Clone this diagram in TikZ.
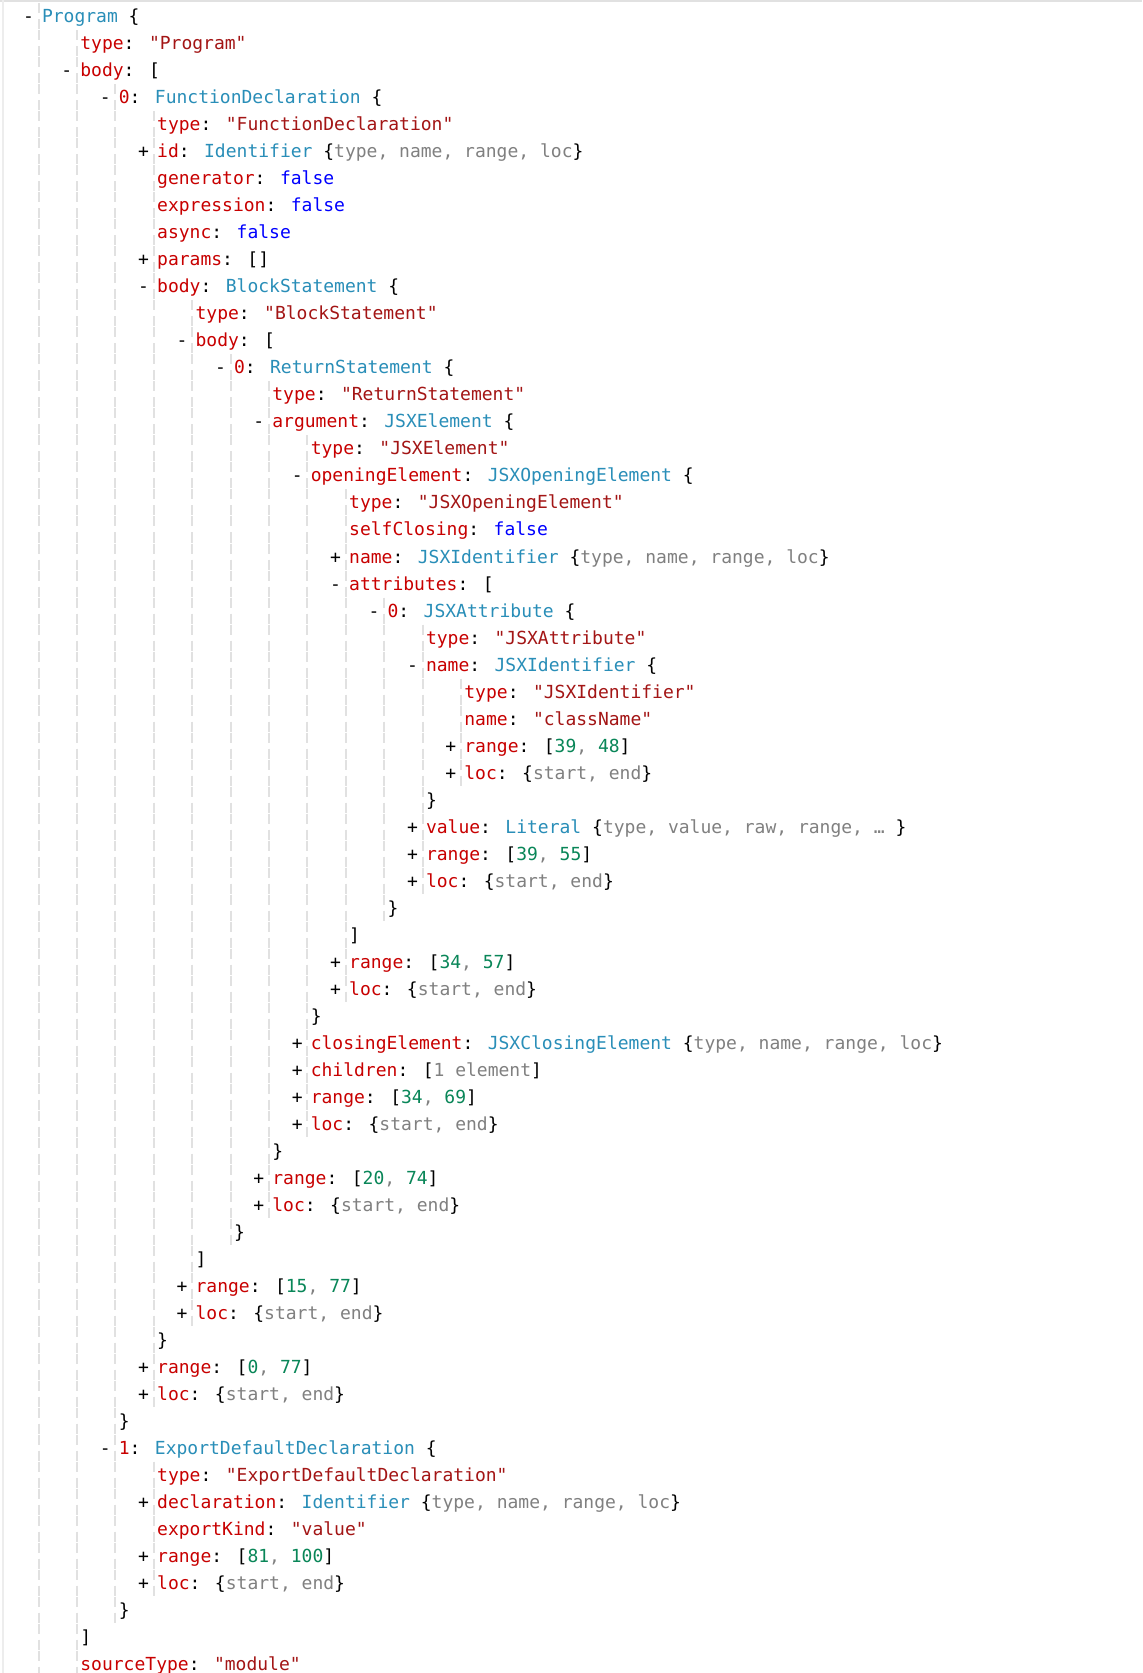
\documentclass[tikz,border=0pt]{standalone}
\usepackage{fontspec}
\newfontfamily\codefont{DejaVu Sans Mono}
\definecolor{kc}{RGB}{200,0,0}
\definecolor{tc}{RGB}{41,142,184}
\definecolor{sc}{RGB}{163,21,21}
\definecolor{bc}{RGB}{0,0,255}
\definecolor{nc}{RGB}{9,134,88}
\definecolor{gc}{RGB}{128,128,128}
\definecolor{guide}{RGB}{225,225,225}
\newcommand{\Ky}[1]{\textcolor{kc}{#1}:}
\newcommand{\Ty}[1]{\textcolor{tc}{#1}}
\newcommand{\St}[1]{\textcolor{sc}{"#1"}}
\newcommand{\Bo}[1]{\textcolor{bc}{#1}}
\newcommand{\Nu}[1]{\textcolor{nc}{#1}}
\newcommand{\Gr}[1]{\textcolor{gc}{#1}}
\newcommand{\Rg}[2]{[\Nu{#1}\Gr{,} \Nu{#2}]}
\newcommand{\Lc}{\{\Gr{start, end}\}}
\newcommand{\Sm}{\{\Gr{type, name, range, loc}\}}
\tikzset{codeline/.style={anchor=base west,inner sep=0pt,font=\codefont\fontsize{9}{10}\selectfont}}
\newcommand{\CL}[4]{%
  \node[codeline] (p#1) at ({41.6+38.4*#2-19},{17+27*#1+6}) {#3};
  \node[codeline] (l#1) at ({41.6+38.4*#2},{17+27*#1+6}) {#4};}
\begin{document}
\begin{tikzpicture}[x=0.5pt,y=-0.5pt]
\useasboundingbox (0,0) rectangle (1142,1673);
\fill[white] (0,0) rectangle (1142,1673);
\draw[guide,line width=1pt] (0,1.5) -- (1142,1.5);
\draw[guide!60,line width=1pt] (3,0) -- (3,1673);
% guides
\foreach \i/\L in {0/0,1/1,2/1,3/2,4/3,5/3,6/3,7/3,8/3,9/3,10/3,11/4,12/4,13/5,14/6,15/6,16/7,17/7,18/8,19/8,20/8,21/8,22/9,23/10,24/10,25/11,26/11,27/11,28/11,29/10,30/10,31/10,32/10,33/9,34/8,35/8,36/8,37/7,38/7,39/7,40/7,41/7,42/6,43/6,44/6,45/5,46/4,47/4,48/4,49/3,50/3,51/3,52/2,53/2,54/3,55/3,56/3,57/3,58/3,59/2,60/1,61/1}{
  \foreach \k in {0,...,\L}{
    \draw[guide,line width=1pt,dash pattern=on 5pt off 3pt] ({41.6+38.4*\k-3},{17+27*\i-13.5}) -- ({41.6+38.4*\k-3},{17+27*\i+13.5});
  }
}
\CL{0}{0}{-}{\Ty{Program} \{}
\CL{1}{1}{}{\Ky{type} \St{Program}}
\CL{2}{1}{-}{\Ky{body} [}
\CL{3}{2}{-}{\Ky{0} \Ty{FunctionDeclaration} \{}
\CL{4}{3}{}{\Ky{type} \St{FunctionDeclaration}}
\CL{5}{3}{+}{\Ky{id} \Ty{Identifier} \Sm}
\CL{6}{3}{}{\Ky{generator} \Bo{false}}
\CL{7}{3}{}{\Ky{expression} \Bo{false}}
\CL{8}{3}{}{\Ky{async} \Bo{false}}
\CL{9}{3}{+}{\Ky{params} []}
\CL{10}{3}{-}{\Ky{body} \Ty{BlockStatement} \{}
\CL{11}{4}{}{\Ky{type} \St{BlockStatement}}
\CL{12}{4}{-}{\Ky{body} [}
\CL{13}{5}{-}{\Ky{0} \Ty{ReturnStatement} \{}
\CL{14}{6}{}{\Ky{type} \St{ReturnStatement}}
\CL{15}{6}{-}{\Ky{argument} \Ty{JSXElement} \{}
\CL{16}{7}{}{\Ky{type} \St{JSXElement}}
\CL{17}{7}{-}{\Ky{openingElement} \Ty{JSXOpeningElement} \{}
\CL{18}{8}{}{\Ky{type} \St{JSXOpeningElement}}
\CL{19}{8}{}{\Ky{selfClosing} \Bo{false}}
\CL{20}{8}{+}{\Ky{name} \Ty{JSXIdentifier} \Sm}
\CL{21}{8}{-}{\Ky{attributes} [}
\CL{22}{9}{-}{\Ky{0} \Ty{JSXAttribute} \{}
\CL{23}{10}{}{\Ky{type} \St{JSXAttribute}}
\CL{24}{10}{-}{\Ky{name} \Ty{JSXIdentifier} \{}
\CL{25}{11}{}{\Ky{type} \St{JSXIdentifier}}
\CL{26}{11}{}{\Ky{name} \St{className}}
\CL{27}{11}{+}{\Ky{range} \Rg{39}{48}}
\CL{28}{11}{+}{\Ky{loc} \Lc}
\CL{29}{10}{}{\}}
\CL{30}{10}{+}{\Ky{value} \Ty{Literal} \{\Gr{type, value, raw, range, … }\}}
\CL{31}{10}{+}{\Ky{range} \Rg{39}{55}}
\CL{32}{10}{+}{\Ky{loc} \Lc}
\CL{33}{9}{}{\}}
\CL{34}{8}{}{]}
\CL{35}{8}{+}{\Ky{range} \Rg{34}{57}}
\CL{36}{8}{+}{\Ky{loc} \Lc}
\CL{37}{7}{}{\}}
\CL{38}{7}{+}{\Ky{closingElement} \Ty{JSXClosingElement} \Sm}
\CL{39}{7}{+}{\Ky{children} [\Gr{1 element}]}
\CL{40}{7}{+}{\Ky{range} \Rg{34}{69}}
\CL{41}{7}{+}{\Ky{loc} \Lc}
\CL{42}{6}{}{\}}
\CL{43}{6}{+}{\Ky{range} \Rg{20}{74}}
\CL{44}{6}{+}{\Ky{loc} \Lc}
\CL{45}{5}{}{\}}
\CL{46}{4}{}{]}
\CL{47}{4}{+}{\Ky{range} \Rg{15}{77}}
\CL{48}{4}{+}{\Ky{loc} \Lc}
\CL{49}{3}{}{\}}
\CL{50}{3}{+}{\Ky{range} \Rg{0}{77}}
\CL{51}{3}{+}{\Ky{loc} \Lc}
\CL{52}{2}{}{\}}
\CL{53}{2}{-}{\Ky{1} \Ty{ExportDefaultDeclaration} \{}
\CL{54}{3}{}{\Ky{type} \St{ExportDefaultDeclaration}}
\CL{55}{3}{+}{\Ky{declaration} \Ty{Identifier} \Sm}
\CL{56}{3}{}{\Ky{exportKind} \St{value}}
\CL{57}{3}{+}{\Ky{range} \Rg{81}{100}}
\CL{58}{3}{+}{\Ky{loc} \Lc}
\CL{59}{2}{}{\}}
\CL{60}{1}{}{]}
\CL{61}{1}{}{\Ky{sourceType} \St{module}}
\end{tikzpicture}
\end{document}
